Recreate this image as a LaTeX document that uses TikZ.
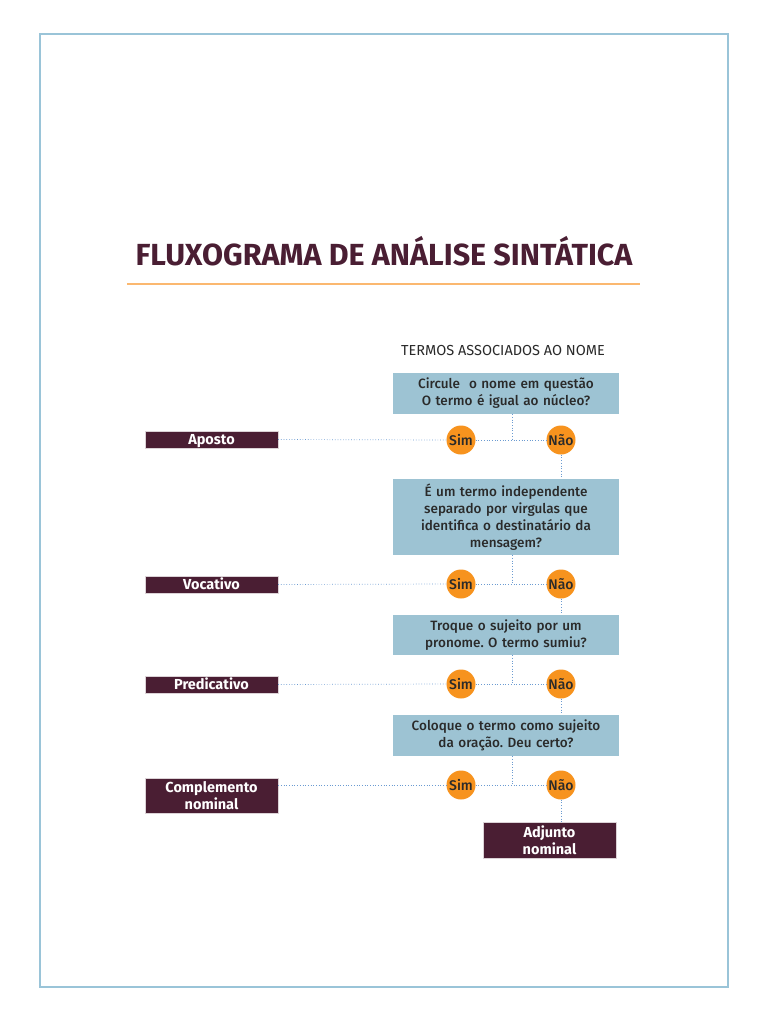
\documentclass[tikz,border=0pt]{standalone}
\usepackage{fontspec}
\setmainfont{Fira Sans}[UprightFont={* Regular}, BoldFont={* Bold}]
\newfontfamily\titlefont{Fira Sans}[UprightFont={* Bold}]
\newfontfamily\medfont{Fira Sans}[UprightFont={* Medium}]
\usetikzlibrary{calc}
\frenchspacing
\definecolor{purp}{HTML}{4A1E33}
\definecolor{boxblue}{HTML}{9DC3D3}
\definecolor{orng}{HTML}{F7931E}
\definecolor{frameblue}{HTML}{9AC4D8}
\definecolor{linorange}{HTML}{FBB870}
\definecolor{dotblue}{HTML}{6B9BD1}
\definecolor{txtgray}{HTML}{2A2A2A}
\tikzset{
  qbox/.style={fill=boxblue, draw=none, minimum width=226pt, text width=220pt, align=center, inner sep=0pt, text=txtgray, font=\fontsize{13.5}{17}\selectfont\medfont},
  ansbox/.style={fill=purp, draw=white!80!purp, line width=0.4pt, minimum width=133pt, text width=128pt, align=center, inner sep=0pt, text=white, font=\fontsize{14.5}{17.5}\selectfont\bfseries},
  oneline/.style={text height=10pt, text depth=-2pt, minimum height=17pt},
  yn/.style={circle, fill=orng, draw=none, minimum size=29pt, inner sep=0pt, text=txtgray, font=\fontsize{14}{16}\selectfont\medfont},
  conn/.style={dotblue, line width=0.7pt, dotted},
}
\begin{document}
\begin{tikzpicture}[x=1pt,y=-1pt]
\useasboundingbox (0,0) rectangle (768,1024);
\fill[white] (0,0) rectangle (768,1024);
\draw[frameblue, line width=2.5pt] (40,34) rectangle (728,987);
\node[text=purp, anchor=base, font=\fontsize{30.5}{34}\selectfont\titlefont] (title) at (384,265.5) {FLUXOGRAMA DE ANÁLISE SINTÁTICA};
\draw[linorange, line width=1.5pt] (127,284) -- (640,284);
\node[text=txtgray, anchor=base, font=\fontsize{14.5}{16}\selectfont] (head) at (503,355) {TERMOS ASSOCIADOS AO NOME};

% question boxes
\node[qbox, minimum height=41pt] (q1) at (506,393.5) {Circule\ \ o nome em questão\\O termo é igual ao núcleo?};
\node[qbox, minimum height=76pt] (q2) at (506,517) {É um termo independente\\separado por virgulas que\\identifica o destinatário da\\mensagem?};
\node[qbox, minimum height=40pt] (q3) at (506,635) {Troque o sujeito por um\\pronome. O termo sumiu?};
\node[qbox, minimum height=41pt] (q4) at (506,735.5) {Coloque o termo como sujeito\\da oração. Deu certo?};

% yes / no circles
\node[yn] (s1) at (461,440) {Sim};
\node[yn] (n1) at (561,440) {Não};
\node[yn] (s2) at (461,584) {Sim};
\node[yn] (n2) at (561,584) {Não};
\node[yn] (s3) at (461,684) {Sim};
\node[yn] (n3) at (561,684) {Não};
\node[yn] (s4) at (461,785) {Sim};
\node[yn] (n4) at (561,785) {Não};

% answer boxes
\node[ansbox, oneline] (a1) at (211.5,439.5) {Aposto};
\node[ansbox, oneline] (a2) at (211.5,584.5) {Vocativo};
\node[ansbox, oneline] (a3) at (211.5,684.5) {Predicativo};
\node[ansbox, minimum height=35pt] (a4) at (211.5,795.5) {Complemento\\nominal};
\node[ansbox, minimum height=36pt] (a5) at (549.5,840) {Adjunto\\nominal};

% junction coordinates
\coordinate (j1) at (512,440);
\coordinate (j2) at (512,584);
\coordinate (j3) at (512,684);
\coordinate (j4) at (512,785);

% connectors
\draw[conn] (a1.east) -- (s1.west);
\draw[conn] (s1.east) -- (n1.west);
\draw[conn] (q1.south -| j1) -- (j1);
\draw[conn] (n1.south) -- (n1.south |- q2.north);

\draw[conn] (a2.east) -- (s2.west);
\draw[conn] (s2.east) -- (n2.west);
\draw[conn] (q2.south -| j2) -- (j2);
\draw[conn] (n2.south) -- (n2.south |- q3.north);

\draw[conn] (a3.east) -- (s3.west);
\draw[conn] (s3.east) -- (n3.west);
\draw[conn] (q3.south -| j3) -- (j3);
\draw[conn] (n3.south) -- (n3.south |- q4.north);

\draw[conn] (a4.east |- s4) -- (s4.west);
\draw[conn] (s4.east) -- (n4.west);
\draw[conn] (q4.south -| j4) -- (j4);
\draw[conn] (n4.south) -- (n4.south |- a5.north);
\end{tikzpicture}
\end{document}
